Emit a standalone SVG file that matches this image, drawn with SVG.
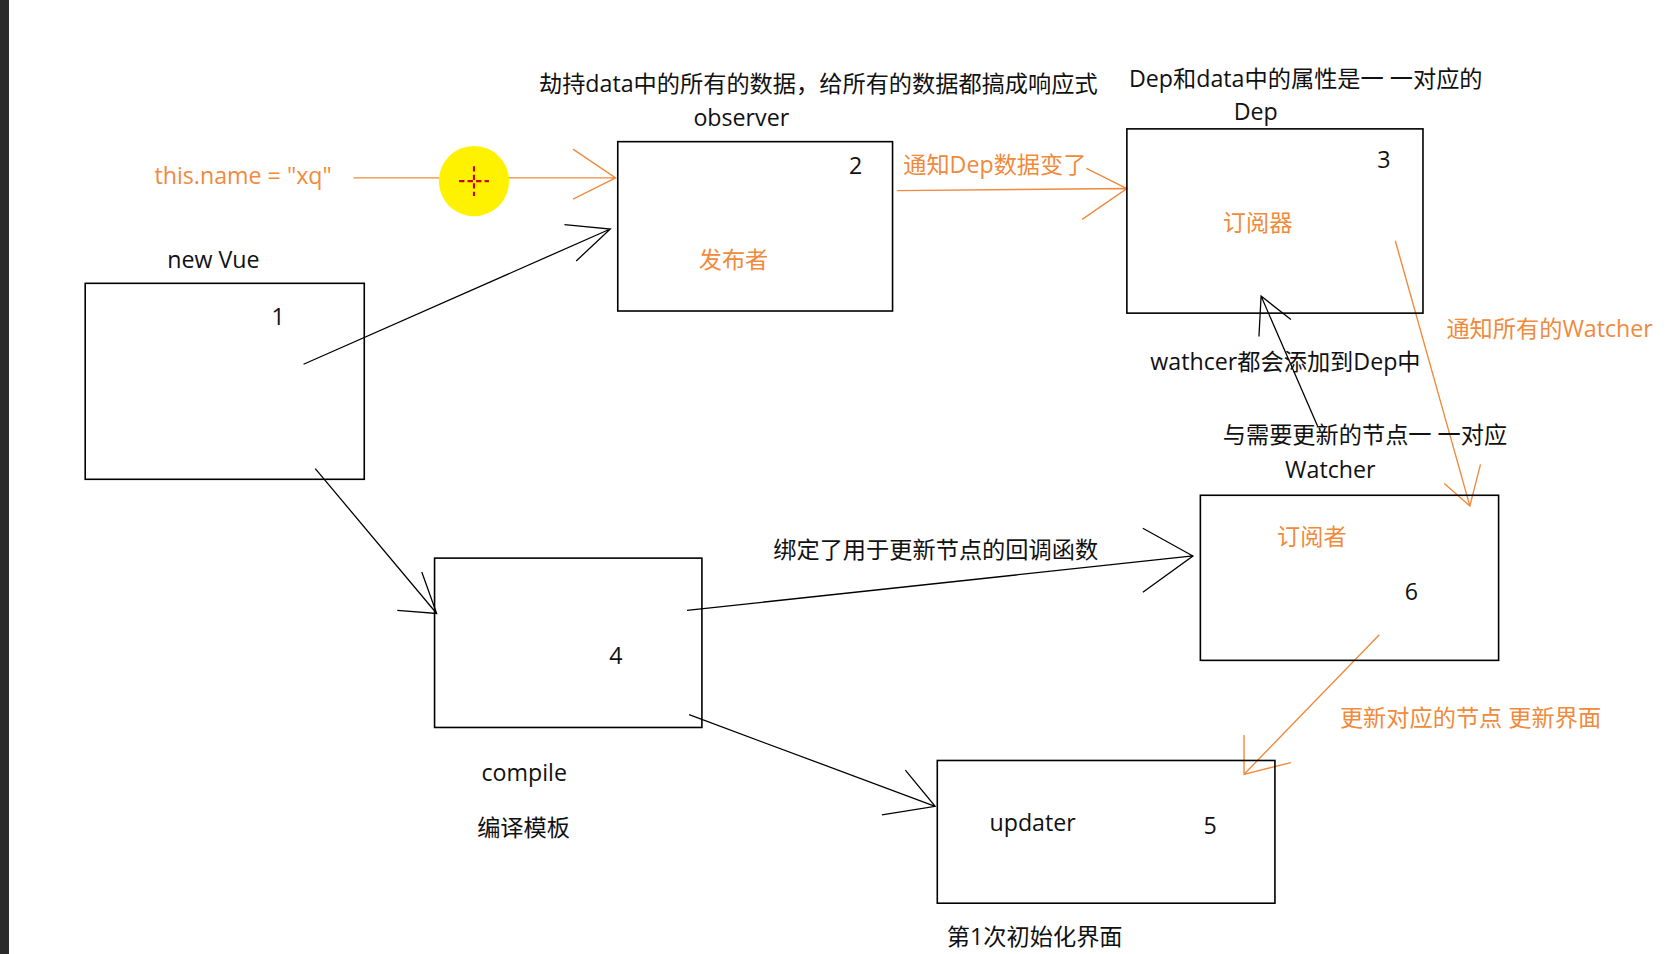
<svg xmlns="http://www.w3.org/2000/svg" width="1670" height="954" viewBox="0 0 1670 954">
<style>
.b{fill:none;stroke:#000;stroke-width:1.5}
.k{fill:none;stroke:#000;stroke-width:1.2}
.o{fill:none;stroke:#f08a3c;stroke-width:1.3}
text{font-family:"Open Sans","Noto Sans CJK SC",sans-serif;font-size:21.8px;fill:#111}
.t{fill:#f08a3c}
</style>
<rect width="1670" height="954" fill="#fff"/>
<rect width="9" height="954" fill="#2a2a2a"/>
<g transform="scale(1.0651)">
<g id="connectors">
<path class="o" d="M332,167H578M538,140L578,167L538,187"/>
<path class="k" d="M285,342L573,215M530,211L573,215L541,245"/>
<path class="o" d="M842,179L1058,177M1020,158L1058,177L1016,206"/>
<path class="o" d="M1310,226L1380,475M1356,454L1380,475L1390,436"/>
<path class="k" d="M1237,400L1184,278M1182,316L1184,278L1212,300"/>
<path class="k" d="M296,440L410,576M396,537L410,576L373,573"/>
<path class="k" d="M645,573L1120,522M1073,496L1120,522L1073,556"/>
<path class="k" d="M647,671L878,757M850,723L878,757L828,765"/>
<path class="o" d="M1295,596L1168,727M1168,690L1168,727L1212,716"/>
</g>
<g id="cursor"><circle cx="445" cy="170" r="33" fill="#fff200"/><path d="M431,170H459M445,156V184" stroke="#c00" stroke-width="2" stroke-dasharray="5,3"/></g>
<g id="n1"><rect class="b" x="80" y="266" width="262" height="184"/><text x="157" y="252">new Vue</text><text x="255" y="305">1</text></g>
<g id="n2"><rect class="b" x="580" y="133" width="258" height="159"/><text x="797" y="163">2</text><text class="t" x="656" y="252">发布者</text><text x="651" y="118">observer</text><text x="506" y="86">劫持data中的所有的数据，给所有的数据都搞成响应式</text></g>
<g id="n3"><rect class="b" x="1058" y="121" width="278" height="173"/><text x="1293" y="158">3</text><text class="t" x="1148" y="217">订阅器</text><text x="1060" y="82">Dep和data中的属性是一 一对应的</text><text x="1179" y="113" text-anchor="middle">Dep</text></g>
<g id="n4"><rect class="b" x="408" y="524" width="251" height="159"/><text x="572" y="623">4</text><text x="452" y="733">compile</text><text x="448" y="785">编译模板</text></g>
<g id="n5"><rect class="b" x="880" y="714" width="317" height="134"/><text x="929" y="780">updater</text><text x="1130" y="783">5</text><text x="889" y="887">第1次初始化界面</text></g>
<g id="n6"><rect class="b" x="1127" y="465" width="280" height="155"/><text class="t" x="1199" y="512">订阅者</text><text x="1319" y="563">6</text><text x="1249" y="449" text-anchor="middle">Watcher</text></g>
<g id="labels">
<text class="t" x="145" y="173">this.name = "xq"</text>
<text class="t" x="848" y="162">通知Dep数据变了</text>
<text class="t" x="1358" y="316">通知所有的Watcher</text>
<text x="1080" y="347">wathcer都会添加到Dep中</text>
<text x="1148" y="416">与需要更新的节点一 一对应</text>
<text x="726" y="524">绑定了用于更新节点的回调函数</text>
<text class="t" x="1258" y="682">更新对应的节点  更新界面</text>
</g>
</g>
</svg>
